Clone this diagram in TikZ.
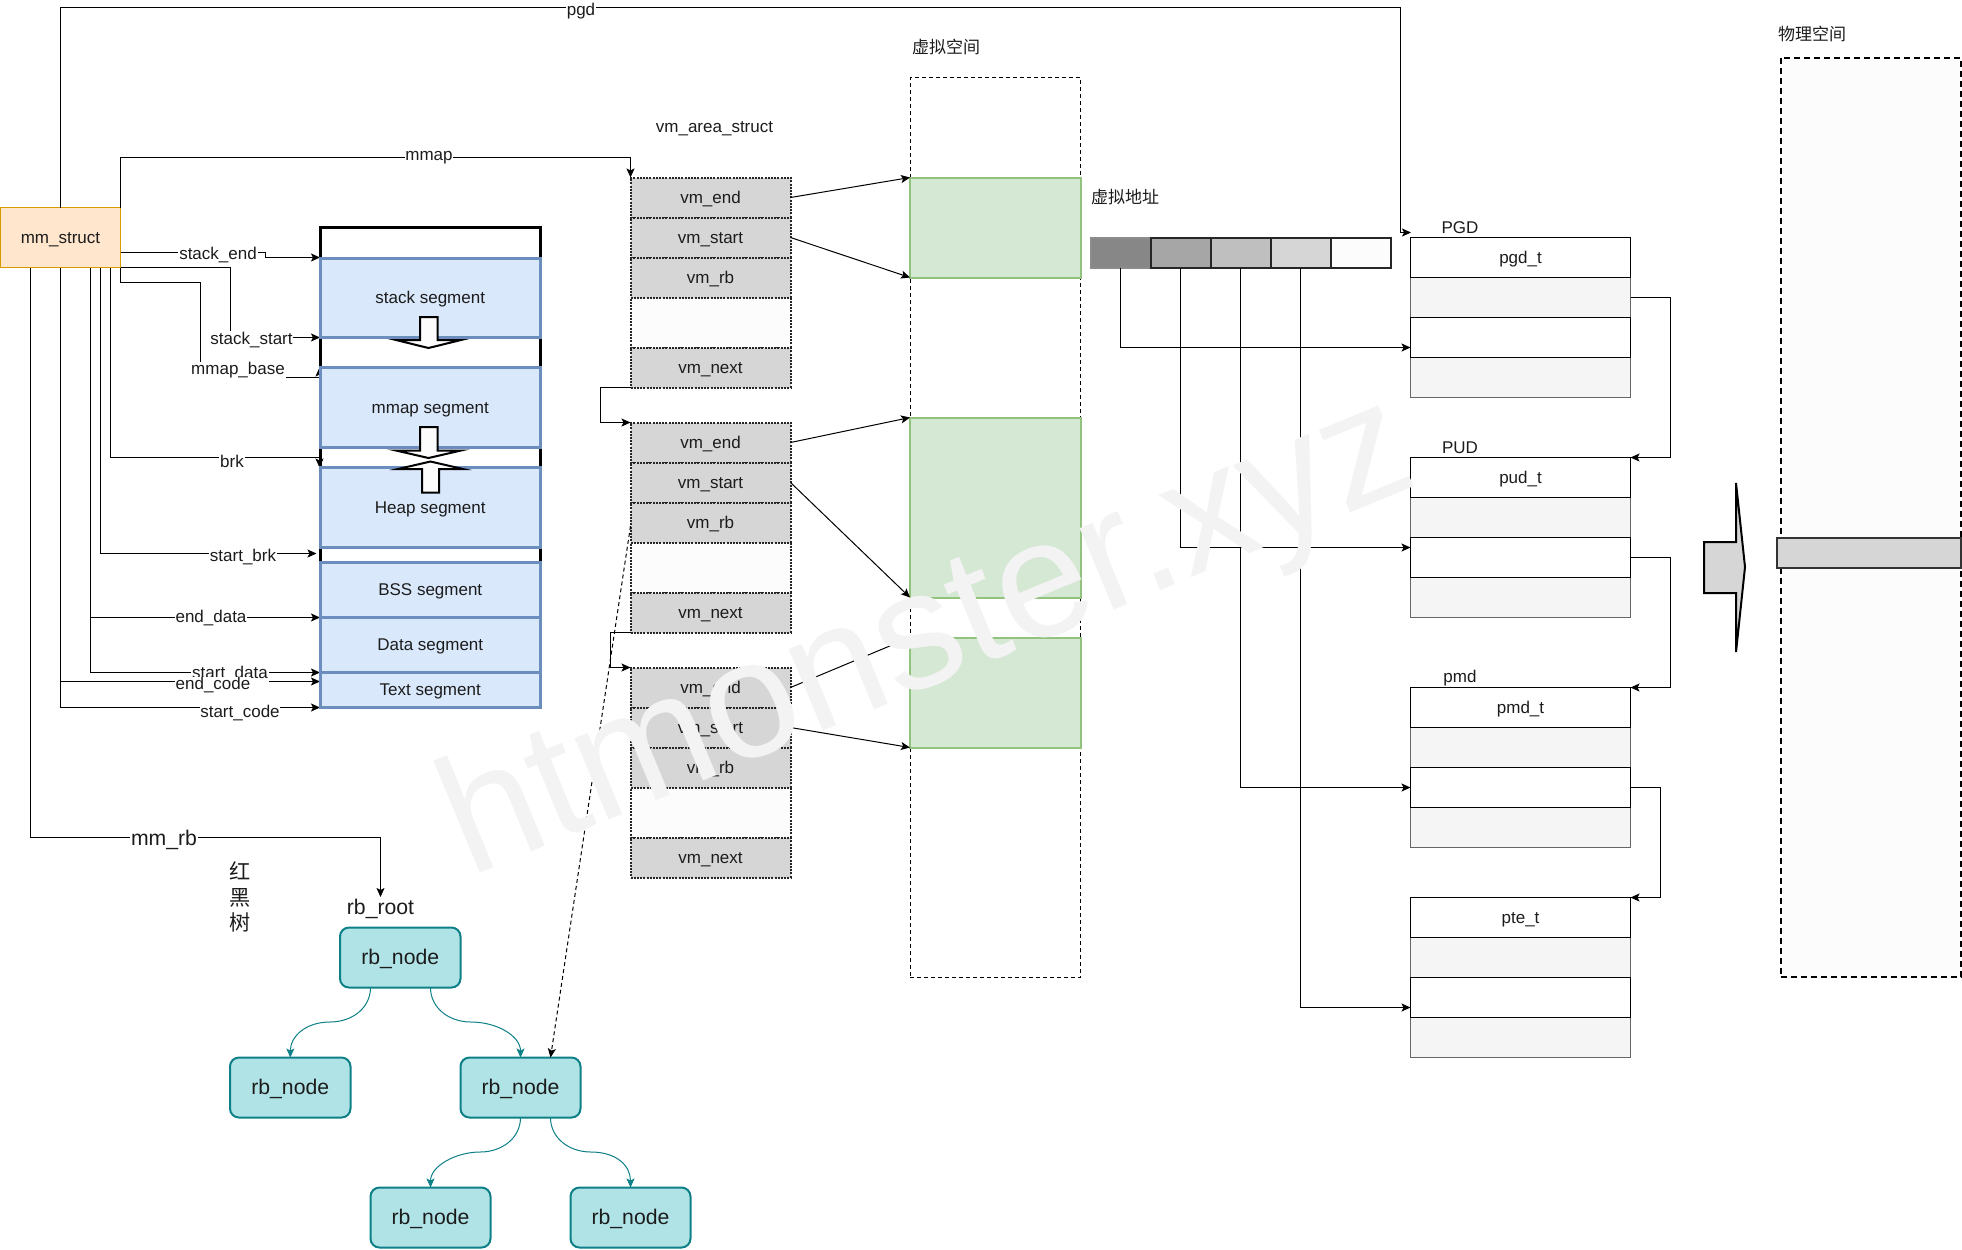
\documentclass[tikz,border=0pt]{standalone}
\usepackage{fontspec}
\setmainfont{Liberation Sans}
\newfontfamily\cjk{Noto Sans CJK SC}
\usetikzlibrary{arrows.meta}
\definecolor{txt}{HTML}{1C1C1C}
\definecolor{segfill}{HTML}{DAE8FC}
\definecolor{segline}{HTML}{6C8EBF}
\definecolor{mmfill}{HTML}{FFE6CC}
\definecolor{mmline}{HTML}{D79B00}
\definecolor{vmfill}{HTML}{D6D6D6}
\definecolor{emptyfill}{HTML}{FCFCFC}
\definecolor{grnfill}{HTML}{D5E8D4}
\definecolor{grnline}{HTML}{93C27F}
\definecolor{rbfill}{HTML}{B0E3E6}
\definecolor{rbline}{HTML}{0E8088}
\definecolor{rowgray}{HTML}{F5F5F5}
\definecolor{rowline}{HTML}{666666}
\definecolor{wmark}{HTML}{F3F3F3}
\newcommand{\bx}[7]{%
  \pgfmathsetmacro\bxw{(#4-#2)*0.5}%
  \pgfmathsetmacro\bxh{(#5-#3)*0.5}%
  \node[boxbase,#6,minimum width=\bxw pt,minimum height=\bxh pt] (#1) at ({(#2+#4)/2},{(#3+#5)/2}) {\raisebox{0pt}[0.68em][0pt]{#7}};}
\newcommand{\vmgroup}[2]{%
  \pgfmathsetmacro\ya{#2}\pgfmathsetmacro\yb{#2+40}\pgfmathsetmacro\yc{#2+80}%
  \pgfmathsetmacro\yd{#2+120}\pgfmathsetmacro\ye{#2+170}\pgfmathsetmacro\yf{#2+210}%
  \bx{#1a}{630.5}{\ya}{790.5}{\yb}{vmrow}{vm\_end}
  \bx{#1b}{630.5}{\yb}{790.5}{\yc}{vmrow}{vm\_start}
  \bx{#1c}{630.5}{\yc}{790.5}{\yd}{vmrow}{vm\_rb}
  \bx{#1d}{630.5}{\yd}{790.5}{\ye}{vmrow,fill=emptyfill}{}
  \bx{#1e}{630.5}{\ye}{790.5}{\yf}{vmrow}{vm\_next}}
\newcommand{\ptable}[3]{%
  \pgfmathsetmacro\ya{#2}\pgfmathsetmacro\yb{#2+40}\pgfmathsetmacro\yc{#2+80}%
  \pgfmathsetmacro\yd{#2+120}\pgfmathsetmacro\ye{#2+160}%
  \bx{#1b}{1410.5}{\yb}{1630.5}{\yc}{grayrow}{}
  \bx{#1d}{1410.5}{\yd}{1630.5}{\ye}{grayrow}{}
  \bx{#1a}{1410.5}{\ya}{1630.5}{\yb}{whiterow}{#3}
  \bx{#1c}{1410.5}{\yc}{1630.5}{\yd}{whiterow}{}}
\tikzset{
  boxbase/.style={inner sep=0pt,outer sep=0pt,anchor=center,text=txt,font=\fontsize{8.5}{10}\selectfont},
  mmbox/.style={draw=mmline,fill=mmfill,line width=0.6pt},
  seg/.style={draw=segline,fill=segfill,line width=1.5pt},
  outerbox/.style={draw=black,fill=white,line width=1.5pt},
  vmrow/.style={draw=black!85,fill=vmfill,line width=1pt,dash pattern=on 1pt off 0.6pt},
  vspace/.style={draw=black,fill=white,line width=0.5pt,dash pattern=on 2pt off 1.5pt},
  grn/.style={draw=grnline,fill=grnfill,line width=1pt},
  bar/.style={draw=black!85,line width=1pt},
  whiterow/.style={draw=black,fill=white,line width=0.5pt},
  grayrow/.style={draw=rowline,fill=rowgray,line width=0.5pt},
  rbnode/.style={draw=rbline,fill=rbfill,line width=1pt,rounded corners=4.5pt,font=\fontsize{10.6}{12}\selectfont},
  conn/.style={draw=black,line width=0.5pt,-{Stealth[length=4.5pt,width=4pt,inset=1pt]}},
  plainline/.style={draw=black,line width=0.5pt},
  tealconn/.style={draw=rbline,line width=0.5pt,-{Stealth[length=4.5pt,width=4pt,inset=1pt]}},
  lbl/.style={inner sep=0.4pt,fill=white,text=txt,font=\fontsize{8.5}{10}\selectfont},
  biglbl/.style={inner sep=0.4pt,fill=white,text=txt,font=\fontsize{10.6}{12}\selectfont},
  free/.style={inner sep=0pt,text=txt,font=\fontsize{8.5}{10}\selectfont},
  blockarrow/.style={draw=black,fill=emptyfill,line width=1pt,line join=miter}
}
\begin{document}
\begin{tikzpicture}[x=0.5pt,y=-0.5pt]
\path[use as bounding box,fill=white] (0,0) rectangle (1962,1249);

% free end points
\coordinate (mmsA) at (30.5,267.5);
\coordinate (mmsB) at (90.5,267.5);
\coordinate (mmsC) at (100.5,267.5);
\coordinate (mmsD) at (110.5,267.5);
\coordinate (mmeA) at (120.5,252.5);
\coordinate (sbrk) at (316.5,553.5);
\coordinate (pgdin) at (1411,232.5);
\coordinate (rbin) at (380.5,897);
\coordinate (t1) at (1410.5,347.5);
\coordinate (t2) at (1410.5,547.5);
\coordinate (t3) at (1410.5,787.5);
\coordinate (t4) at (1410.5,1007.5);

% memory stack frame
\bx{frame}{320}{227.5}{540.5}{707.5}{outerbox}{}

% mm_struct
\bx{mm}{0.5}{207.5}{120.5}{267.5}{mmbox}{mm\_struct}

% virtual and physical space
\bx{vsp}{910}{77.5}{1080.5}{977}{vspace}{}
\bx{g1}{910}{177.5}{1080.5}{277.5}{grn}{}
\bx{g2}{910}{417.5}{1080.5}{597.5}{grn}{}
\bx{g3}{910}{637.5}{1080.5}{747.5}{grn}{}
\bx{phys}{1780.5}{57.5}{1960.5}{977}{draw=black,fill=emptyfill,line width=1pt,dash pattern=on 3pt off 2pt}{}
\bx{band}{1777}{537.5}{1960.5}{567.5}{draw=black!80,fill=vmfill,line width=1pt}{}

% address bar
\bx{b1}{1090.5}{237.5}{1150.5}{267.5}{draw=black!45,line width=1pt,fill=black!47}{}
\bx{b2}{1150.5}{237.5}{1210.5}{267.5}{bar,fill=black!35}{}
\bx{b3}{1210.5}{237.5}{1270.5}{267.5}{bar,fill=black!25}{}
\bx{b4}{1270.5}{237.5}{1330.5}{267.5}{bar,fill=black!16}{}
\bx{b5}{1330.5}{237.5}{1390.5}{267.5}{bar,fill=emptyfill}{}

% page tables
\ptable{pg}{237.5}{pgd\_t}
\ptable{pu}{457.5}{pud\_t}
\ptable{pm}{687.5}{pmd\_t}
\ptable{pt}{897.5}{pte\_t}

% connectors from mm_struct
\draw[conn] (mm.north) |- (1400.5,7.5) -- (1400.5,232.5) -- (pgdin);
\draw[conn] (mm.north east) |- (630.5,157.5) -- (630.5,177.5);
\draw[conn] (mmeA) -- (265.5,252.5) -- (265.5,257.5) -- (320,257.5);
\draw[conn] (mm.south east) -- (230.5,267.5) -- (230.5,337.5) -- (320,337.5);
\draw[conn] (mm.south east) -- (120.5,282.5) -- (200.5,282.5) -- (200.5,377.5) -- (319.5,377.5) -- (319.5,367.5);
\draw[conn] (mmsD) -- (110.5,457.5) -- (319.5,457.5) -- (319.5,467.5);
\draw[conn] (mmsC) -- (100.5,553.5) -- (sbrk);
\draw[plainline] (mmsB) -- (90.5,672.5);
\draw[conn] (90.5,617.5) -- (320,617.5);
\draw[conn] (90.5,672.5) -- (320,672.5);
\draw[plainline] (mm.south) -- (60.5,707.5);
\draw[conn] (60.5,681.5) -- (320,681.5);
\draw[conn] (60.5,707.5) -- (320,707.5);
\draw[conn] (mmsA) -- (30.5,837.5) -- (380.5,837.5) -- (rbin);

% labels on those connectors
\node[lbl] (lpgd) at (581,11) {pgd};
\node[lbl] (lmmap) at (429,158) {mmap};
\node[lbl] (lse) at (218,255) {stack\_end};
\node[lbl] (lss) at (251.5,340) {stack\_start};
\node[lbl] (lmb) at (238,370.5) {mmap\_base};
\node[lbl] (lbrk) at (232,461) {brk};
\node[lbl] (lsb) at (243,557.5) {start\_brk};
\node[lbl] (led) at (211,618.5) {end\_data};
\node[lbl] (lsd) at (230,674) {start\_data};
\node[lbl] (lec) at (213,685.5) {end\_code};
\node[lbl] (lsc) at (240,713.5) {start\_code};
\node[biglbl] (lrb) at (164,840) {mm\_rb};

% segments
\bx{sstack}{320}{258}{540.5}{337.5}{seg}{stack segment}
\bx{smmap}{320}{367.5}{540.5}{447.5}{seg}{mmap segment}
\bx{sheap}{320}{467.5}{540.5}{547}{seg}{Heap segment}
\bx{sbss}{320}{562.5}{540.5}{617.5}{seg}{BSS segment}
\bx{sdata}{320}{617.5}{540.5}{672.5}{seg}{Data segment}
\bx{stext}{320}{672.5}{540.5}{707.5}{seg}{Text segment}

% block arrows
\draw[blockarrow] (420,317) -- (437.5,317) -- (437.5,340) -- (461,340) -- (428.5,348) -- (396,340) -- (420,340) -- cycle;
\draw[blockarrow] (420,427) -- (437.5,427) -- (437.5,450.5) -- (461,450.5) -- (428.5,458) -- (396,450.5) -- (420,450.5) -- cycle;
\draw[blockarrow] (422,492.5) -- (439,492.5) -- (439,469) -- (463,469) -- (430.5,461.5) -- (398,469) -- (422,469) -- cycle;
\draw[blockarrow,fill=vmfill] (1704,542) -- (1736,542) -- (1736,483) -- (1745,567) -- (1736,652) -- (1736,593) -- (1704,593) -- cycle;

% vm_area_struct groups
\vmgroup{va}{177.5}
\vmgroup{vb}{422.5}
\vmgroup{vc}{667.5}

% vm connectors
\draw[conn] (vae.south west) -- (600.5,387.5) -- (600.5,422.5) -- (vba.north west);
\draw[conn] (vbe.south west) -- (610.5,632.5) -- (610.5,667.5) -- (vca.north west);
\draw[conn] (vaa.east) -- (g1.north west);
\draw[conn] (vab.east) -- (g1.south west);
\draw[conn] (vba.east) -- (g2.north west);
\draw[conn] (vbb.east) -- (g2.south west);
\draw[conn] (vca.east) -- (g3.north west);
\draw[conn] (vcb.east) -- (g3.south west);

% rb tree
\bx{rb1}{340}{927.5}{460.5}{987.5}{rbnode}{rb\_node}
\bx{rb2}{230}{1057.5}{350.5}{1117.5}{rbnode}{rb\_node}
\bx{rb3}{460.5}{1057.5}{580.5}{1117.5}{rbnode}{rb\_node}
\bx{rb4}{370.5}{1187.5}{490.5}{1247.5}{rbnode}{rb\_node}
\bx{rb5}{570.5}{1187.5}{690.5}{1247.5}{rbnode}{rb\_node}
\draw[tealconn] (370.5,987.5) .. controls (370.5,1008) and (352,1022) .. (330,1022) .. controls (306,1022) and (290.5,1036) .. (rb2.north);
\draw[tealconn] (430.5,987.5) .. controls (430.5,1008) and (449,1022) .. (471,1022) .. controls (497,1022) and (520.5,1036) .. (rb3.north);
\draw[tealconn] (rb3.south) .. controls (520.5,1138) and (502,1152) .. (480,1152) .. controls (456,1152) and (430.5,1166) .. (rb4.north);
\draw[tealconn] (550.5,1117.5) .. controls (550.5,1138) and (569,1152) .. (591,1152) .. controls (617,1152) and (630.5,1166) .. (rb5.north);
\coordinate (vrbout) at (630.5,526);
\draw[conn,dash pattern=on 2pt off 1.5pt] (vrbout) -- (550.5,1057.5);

% address bar connectors
\draw[conn] (b1.south) |- (t1);
\draw[conn] (b2.south) |- (t2);
\draw[conn] (b3.south) |- (t3);
\draw[conn] (b4.south) |- (t4);

% table to table
\draw[conn] (pgb.east) -- (1670.5,297.5) -- (1670.5,457.5) -- (pua.north east);
\draw[conn] (puc.east) -- (1670.5,557.5) -- (1670.5,687.5) -- (pma.north east);
\draw[conn] (pmc.east) -- (1660.5,787.5) -- (1660.5,897.5) -- (pta.north east);

% free texts
\node[free] (tv) at (946,47) {\cjk 虚拟空间};
\node[free] (tvm) at (714.5,128.5) {vm\_area\_struct};
\node[free] (tva) at (1125,197) {\cjk 虚拟地址};
\node[free] (tph) at (1812,34) {\cjk 物理空间};
\node[free] (tpg) at (1460,228) {PGD};
\node[free] (tpu) at (1460,448) {PUD};
\node[free] (tpm) at (1460,678) {pmd};
\node[free,font=\fontsize{10.6}{12}\selectfont] (troot) at (380.5,909) {rb\_root};
\node[free,font=\cjk\fontsize{10.6}{12.6}\selectfont,align=center] (trb) at (240,897) {红\\黑\\树};

% watermark
\node[anchor=base west,rotate=22.5,inner sep=0pt,text=wmark,font=\fontsize{83.5}{90}\selectfont] (wm) at (469,877.5) {htmonster.xyz};
\end{tikzpicture}
\end{document}
